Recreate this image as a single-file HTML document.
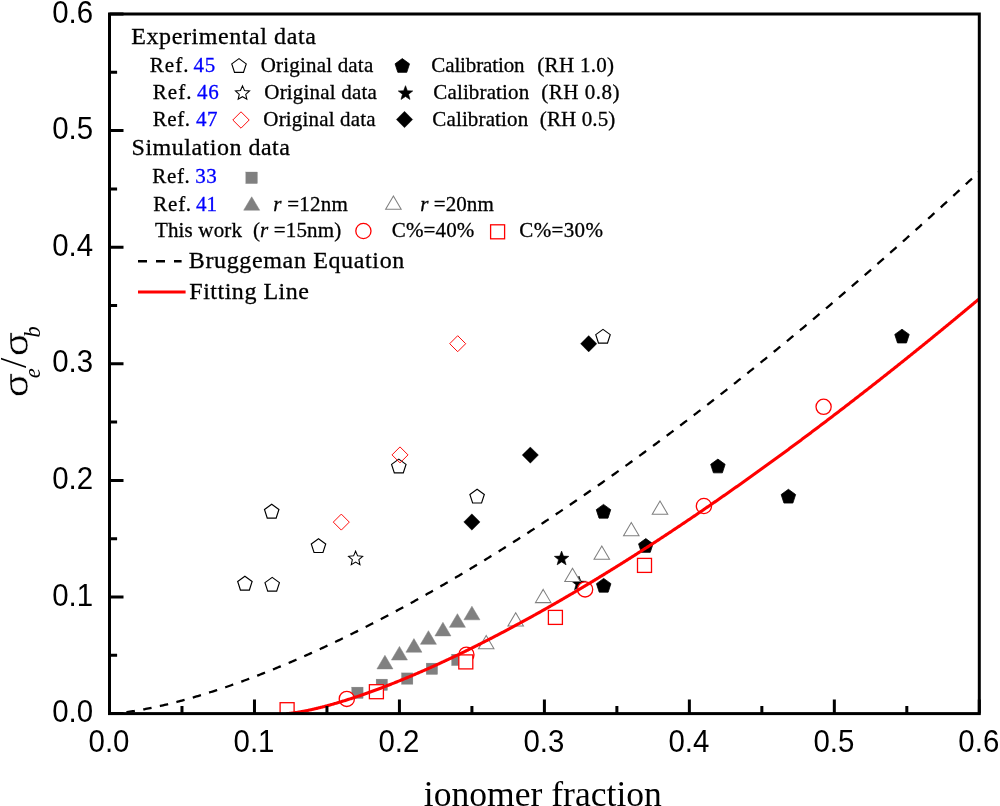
<!DOCTYPE html><html><head><meta charset="utf-8"><style>html,body{margin:0;padding:0;background:#fff;width:1000px;height:806px;overflow:hidden}svg{display:block;will-change:transform}</style></head><body>
<svg width="1000" height="806" viewBox="0 0 1000 806">
<rect width="1000" height="806" fill="#fff"/>
<defs><clipPath id="pc"><rect x="109.5" y="14.0" width="869.80" height="699.60"/></clipPath></defs>
<g clip-path="url(#pc)"><polygon points="244.90,576.30 252.13,581.55 249.37,590.05 240.43,590.05 237.67,581.55" fill="none" stroke="#000" stroke-width="1.15" stroke-linejoin="miter"/><polygon points="272.20,577.40 279.43,582.65 276.67,591.15 267.73,591.15 264.97,582.65" fill="none" stroke="#000" stroke-width="1.15" stroke-linejoin="miter"/><polygon points="271.70,504.30 278.93,509.55 276.17,518.05 267.23,518.05 264.47,509.55" fill="none" stroke="#000" stroke-width="1.15" stroke-linejoin="miter"/><polygon points="318.50,538.70 325.73,543.95 322.97,552.45 314.03,552.45 311.27,543.95" fill="none" stroke="#000" stroke-width="1.15" stroke-linejoin="miter"/><polygon points="398.80,459.10 406.03,464.35 403.27,472.85 394.33,472.85 391.57,464.35" fill="none" stroke="#000" stroke-width="1.15" stroke-linejoin="miter"/><polygon points="477.10,489.20 484.33,494.45 481.57,502.95 472.63,502.95 469.87,494.45" fill="none" stroke="#000" stroke-width="1.15" stroke-linejoin="miter"/><polygon points="603.00,329.40 610.23,334.65 607.47,343.15 598.53,343.15 595.77,334.65" fill="none" stroke="#000" stroke-width="1.15" stroke-linejoin="miter"/><polygon points="355.60,551.20 357.60,555.85 362.64,556.31 358.84,559.65 359.95,564.59 355.60,562.00 351.25,564.59 352.36,559.65 348.56,556.31 353.60,555.85" fill="none" stroke="#000" stroke-width="1.05"/><polygon points="341.3,514.1 349.3,522.1 341.3,530.1 333.3,522.1" fill="none" stroke="#ff0000" stroke-width="0.95"/><polygon points="400,446.9 408.0,454.9 400,462.9 392.0,454.9" fill="none" stroke="#ff0000" stroke-width="0.95"/><polygon points="457.7,335.7 465.7,343.7 457.7,351.7 449.7,343.7" fill="none" stroke="#ff0000" stroke-width="0.95"/><polygon points="603.50,504.40 610.73,509.65 607.97,518.15 599.03,518.15 596.27,509.65" fill="#000" stroke="#000" stroke-width="0.8" stroke-linejoin="miter"/><polygon points="603.70,578.40 610.93,583.65 608.17,592.15 599.23,592.15 596.47,583.65" fill="#000" stroke="#000" stroke-width="0.8" stroke-linejoin="miter"/><polygon points="645.80,538.60 653.03,543.85 650.27,552.35 641.33,552.35 638.57,543.85" fill="#000" stroke="#000" stroke-width="0.8" stroke-linejoin="miter"/><polygon points="717.90,459.10 725.13,464.35 722.37,472.85 713.43,472.85 710.67,464.35" fill="#000" stroke="#000" stroke-width="0.8" stroke-linejoin="miter"/><polygon points="788.40,489.30 795.63,494.55 792.87,503.05 783.93,503.05 781.17,494.55" fill="#000" stroke="#000" stroke-width="0.8" stroke-linejoin="miter"/><polygon points="902.00,329.20 909.23,334.45 906.47,342.95 897.53,342.95 894.77,334.45" fill="#000" stroke="#000" stroke-width="0.8" stroke-linejoin="miter"/><polygon points="561.60,551.10 563.48,556.12 568.83,556.35 564.64,559.69 566.07,564.85 561.60,561.89 557.13,564.85 558.56,559.69 554.37,556.35 559.72,556.12" fill="#000" stroke="#000" stroke-width="0.6"/><polygon points="579.00,576.10 580.88,581.12 586.23,581.35 582.04,584.69 583.47,589.85 579.00,586.89 574.53,589.85 575.96,584.69 571.77,581.35 577.12,581.12" fill="#000" stroke="#000" stroke-width="0.6"/><polygon points="588.7,335.5 596.9000000000001,343.7 588.7,351.9 580.5,343.7" fill="#000" stroke="#000" stroke-width="0.3"/><polygon points="530.3,446.90000000000003 538.5,455.1 530.3,463.3 522.0999999999999,455.1" fill="#000" stroke="#000" stroke-width="0.3"/><polygon points="471.9,513.8 480.09999999999997,522 471.9,530.2 463.7,522" fill="#000" stroke="#000" stroke-width="0.3"/><rect x="351.7" y="687.0999999999999" width="11.4" height="11.4" fill="#808080" stroke="#808080" stroke-width="0.3"/><rect x="376.1" y="679.0999999999999" width="11.4" height="11.4" fill="#808080" stroke="#808080" stroke-width="0.3"/><rect x="401.5" y="672.9" width="11.4" height="11.4" fill="#808080" stroke="#808080" stroke-width="0.3"/><rect x="426.2" y="663.0999999999999" width="11.4" height="11.4" fill="#808080" stroke="#808080" stroke-width="0.3"/><rect x="451.6" y="654.1999999999999" width="11.4" height="11.4" fill="#808080" stroke="#808080" stroke-width="0.3"/><polygon points="384.93666666666667,655.3000000000001 392.93666666666667,668.9 376.93666666666667,668.9" fill="#808080" stroke="#808080" stroke-width="0.5"/><polygon points="399.43333333333334,646.4000000000001 407.43333333333334,660.0 391.43333333333334,660.0" fill="#808080" stroke="#808080" stroke-width="0.5"/><polygon points="413.93,638.6 421.93,652.1999999999999 405.93,652.1999999999999" fill="#808080" stroke="#808080" stroke-width="0.5"/><polygon points="428.4266666666667,630.7 436.4266666666667,644.3 420.4266666666667,644.3" fill="#808080" stroke="#808080" stroke-width="0.5"/><polygon points="442.92333333333335,622.3000000000001 450.92333333333335,635.9 434.92333333333335,635.9" fill="#808080" stroke="#808080" stroke-width="0.5"/><polygon points="457.41999999999996,613.7 465.41999999999996,627.3 449.41999999999996,627.3" fill="#808080" stroke="#808080" stroke-width="0.5"/><polygon points="471.9166666666667,606.2 479.9166666666667,619.8 463.9166666666667,619.8" fill="#808080" stroke="#808080" stroke-width="0.5"/><polygon points="486.2,635.5 493.95,648.7 478.45,648.7" fill="#fff" stroke="#808080" stroke-width="1.05"/><polygon points="515.7,612.6999999999999 523.45,625.9 507.95000000000005,625.9" fill="#fff" stroke="#808080" stroke-width="1.05"/><polygon points="543.2,589.4 550.95,602.6 535.45,602.6" fill="#fff" stroke="#808080" stroke-width="1.05"/><polygon points="572.5,568.3 580.25,581.5 564.75,581.5" fill="#fff" stroke="#808080" stroke-width="1.05"/><polygon points="601.8,546.0 609.55,559.2 594.05,559.2" fill="#fff" stroke="#808080" stroke-width="1.05"/><polygon points="631.3,522.5 639.05,535.7 623.55,535.7" fill="#fff" stroke="#808080" stroke-width="1.05"/><polygon points="660,501.0 667.75,514.2 652.25,514.2" fill="#fff" stroke="#808080" stroke-width="1.05"/><circle cx="346.8" cy="698.9" r="7.6" fill="#fff" stroke="#ff0000" stroke-width="1.3"/><circle cx="466.4" cy="654.7" r="7.6" fill="#fff" stroke="#ff0000" stroke-width="1.3"/><circle cx="585.1" cy="589.4" r="7.6" fill="#fff" stroke="#ff0000" stroke-width="1.3"/><circle cx="703.9" cy="506" r="7.6" fill="#fff" stroke="#ff0000" stroke-width="1.3"/><circle cx="823.6" cy="406.8" r="7.6" fill="#fff" stroke="#ff0000" stroke-width="1.3"/><rect x="280.1" y="702.7" width="14.0" height="14.0" fill="#fff" stroke="#ff0000" stroke-width="1.3"/><rect x="369.4" y="684.7" width="14.0" height="14.0" fill="#fff" stroke="#ff0000" stroke-width="1.3"/><rect x="458.8" y="654.9" width="14.0" height="14.0" fill="#fff" stroke="#ff0000" stroke-width="1.3"/><rect x="548.4" y="610.4" width="14.0" height="14.0" fill="#fff" stroke="#ff0000" stroke-width="1.3"/><rect x="637.5" y="558.4" width="14.0" height="14.0" fill="#fff" stroke="#ff0000" stroke-width="1.3"/><polyline points="109.50,713.60 110.95,713.56 112.40,713.50 113.85,713.41 115.30,713.31 116.75,713.19 118.20,713.06 119.65,712.92 121.10,712.77 122.55,712.60 124.00,712.43 125.45,712.25 126.90,712.07 128.35,711.87 129.80,711.67 131.25,711.46 132.69,711.24 134.14,711.02 135.59,710.78 137.04,710.55 138.49,710.30 139.94,710.05 141.39,709.80 142.84,709.53 144.29,709.26 145.74,708.99 147.19,708.71 148.64,708.43 150.09,708.14 151.54,707.84 152.99,707.54 154.44,707.24 155.89,706.93 157.34,706.61 158.79,706.29 160.24,705.97 161.69,705.64 163.14,705.30 164.59,704.96 166.04,704.62 167.49,704.27 168.94,703.92 170.39,703.56 171.84,703.20 173.29,702.84 174.74,702.47 176.18,702.10 177.63,701.72 179.08,701.34 180.53,700.95 181.98,700.56 183.43,700.17 184.88,699.77 186.33,699.37 187.78,698.97 189.23,698.56 190.68,698.15 192.13,697.73 193.58,697.31 195.03,696.89 196.48,696.46 197.93,696.03 199.38,695.60 200.83,695.16 202.28,694.72 203.73,694.28 205.18,693.83 206.63,693.38 208.08,692.92 209.53,692.47 210.98,692.01 212.43,691.54 213.88,691.07 215.33,690.60 216.78,690.13 218.23,689.65 219.67,689.17 221.12,688.69 222.57,688.20 224.02,687.71 225.47,687.22 226.92,686.72 228.37,686.22 229.82,685.72 231.27,685.21 232.72,684.70 234.17,684.19 235.62,683.68 237.07,683.16 238.52,682.64 239.97,682.12 241.42,681.59 242.87,681.06 244.32,680.53 245.77,680.00 247.22,679.46 248.67,678.92 250.12,678.37 251.57,677.83 253.02,677.28 254.47,676.73 255.92,676.17 257.37,675.62 258.82,675.06 260.27,674.49 261.72,673.93 263.16,673.36 264.61,672.79 266.06,672.22 267.51,671.64 268.96,671.06 270.41,670.48 271.86,669.90 273.31,669.31 274.76,668.72 276.21,668.13 277.66,667.53 279.11,666.94 280.56,666.34 282.01,665.73 283.46,665.13 284.91,664.52 286.36,663.91 287.81,663.30 289.26,662.69 290.71,662.07 292.16,661.45 293.61,660.83 295.06,660.20 296.51,659.58 297.96,658.95 299.41,658.32 300.86,657.68 302.31,657.04 303.76,656.41 305.21,655.76 306.65,655.12 308.10,654.47 309.55,653.83 311.00,653.17 312.45,652.52 313.90,651.87 315.35,651.21 316.80,650.55 318.25,649.88 319.70,649.22 321.15,648.55 322.60,647.88 324.05,647.21 325.50,646.54 326.95,645.86 328.40,645.18 329.85,644.50 331.30,643.82 332.75,643.13 334.20,642.45 335.65,641.76 337.10,641.06 338.55,640.37 340.00,639.67 341.45,638.98 342.90,638.28 344.35,637.57 345.80,636.87 347.25,636.16 348.69,635.45 350.14,634.74 351.59,634.03 353.04,633.31 354.49,632.59 355.94,631.87 357.39,631.15 358.84,630.43 360.29,629.70 361.74,628.97 363.19,628.24 364.64,627.51 366.09,626.77 367.54,626.04 368.99,625.30 370.44,624.56 371.89,623.81 373.34,623.07 374.79,622.32 376.24,621.57 377.69,620.82 379.14,620.07 380.59,619.31 382.04,618.55 383.49,617.79 384.94,617.03 386.39,616.27 387.84,615.50 389.29,614.74 390.74,613.97 392.19,613.20 393.63,612.42 395.08,611.65 396.53,610.87 397.98,610.09 399.43,609.31 400.88,608.53 402.33,607.74 403.78,606.95 405.23,606.17 406.68,605.37 408.13,604.58 409.58,603.79 411.03,602.99 412.48,602.19 413.93,601.39 415.38,600.59 416.83,599.78 418.28,598.98 419.73,598.17 421.18,597.36 422.63,596.55 424.08,595.73 425.53,594.92 426.98,594.10 428.43,593.28 429.88,592.46 431.33,591.64 432.78,590.81 434.23,589.99 435.68,589.16 437.12,588.33 438.57,587.49 440.02,586.66 441.47,585.82 442.92,584.99 444.37,584.15 445.82,583.30 447.27,582.46 448.72,581.62 450.17,580.77 451.62,579.92 453.07,579.07 454.52,578.22 455.97,577.36 457.42,576.51 458.87,575.65 460.32,574.79 461.77,573.93 463.22,573.07 464.67,572.20 466.12,571.33 467.57,570.47 469.02,569.60 470.47,568.72 471.92,567.85 473.37,566.97 474.82,566.10 476.27,565.22 477.72,564.34 479.16,563.46 480.61,562.57 482.06,561.69 483.51,560.80 484.96,559.91 486.41,559.02 487.86,558.13 489.31,557.23 490.76,556.33 492.21,555.44 493.66,554.54 495.11,553.64 496.56,552.73 498.01,551.83 499.46,550.92 500.91,550.01 502.36,549.11 503.81,548.19 505.26,547.28 506.71,546.37 508.16,545.45 509.61,544.53 511.06,543.61 512.51,542.69 513.96,541.77 515.41,540.84 516.86,539.92 518.31,538.99 519.76,538.06 521.21,537.13 522.65,536.20 524.10,535.26 525.55,534.32 527.00,533.39 528.45,532.45 529.90,531.51 531.35,530.56 532.80,529.62 534.25,528.67 535.70,527.73 537.15,526.78 538.60,525.83 540.05,524.87 541.50,523.92 542.95,522.96 544.40,522.01 545.85,521.05 547.30,520.09 548.75,519.13 550.20,518.16 551.65,517.20 553.10,516.23 554.55,515.26 556.00,514.29 557.45,513.32 558.90,512.35 560.35,511.37 561.80,510.40 563.25,509.42 564.70,508.44 566.14,507.46 567.59,506.48 569.04,505.49 570.49,504.51 571.94,503.52 573.39,502.53 574.84,501.54 576.29,500.55 577.74,499.56 579.19,498.56 580.64,497.57 582.09,496.57 583.54,495.57 584.99,494.57 586.44,493.56 587.89,492.56 589.34,491.56 590.79,490.55 592.24,489.54 593.69,488.53 595.14,487.52 596.59,486.51 598.04,485.49 599.49,484.47 600.94,483.46 602.39,482.44 603.84,481.42 605.29,480.40 606.74,479.37 608.19,478.35 609.63,477.32 611.08,476.29 612.53,475.26 613.98,474.23 615.43,473.20 616.88,472.16 618.33,471.13 619.78,470.09 621.23,469.05 622.68,468.01 624.13,466.97 625.58,465.93 627.03,464.89 628.48,463.84 629.93,462.79 631.38,461.74 632.83,460.69 634.28,459.64 635.73,458.59 637.18,457.53 638.63,456.48 640.08,455.42 641.53,454.36 642.98,453.30 644.43,452.24 645.88,451.18 647.33,450.11 648.78,449.05 650.23,447.98 651.68,446.91 653.12,445.84 654.57,444.77 656.02,443.70 657.47,442.62 658.92,441.54 660.37,440.47 661.82,439.39 663.27,438.31 664.72,437.23 666.17,436.14 667.62,435.06 669.07,433.97 670.52,432.89 671.97,431.80 673.42,430.71 674.87,429.61 676.32,428.52 677.77,427.43 679.22,426.33 680.67,425.23 682.12,424.14 683.57,423.04 685.02,421.94 686.47,420.83 687.92,419.73 689.37,418.62 690.82,417.52 692.27,416.41 693.72,415.30 695.17,414.19 696.62,413.07 698.06,411.96 699.51,410.85 700.96,409.73 702.41,408.61 703.86,407.49 705.31,406.37 706.76,405.25 708.21,404.13 709.66,403.00 711.11,401.88 712.56,400.75 714.01,399.62 715.46,398.49 716.91,397.36 718.36,396.23 719.81,395.09 721.26,393.96 722.71,392.82 724.16,391.68 725.61,390.54 727.06,389.40 728.51,388.26 729.96,387.11 731.41,385.97 732.86,384.82 734.31,383.68 735.76,382.53 737.21,381.38 738.66,380.22 740.11,379.07 741.55,377.92 743.00,376.76 744.45,375.61 745.90,374.45 747.35,373.29 748.80,372.13 750.25,370.96 751.70,369.80 753.15,368.64 754.60,367.47 756.05,366.30 757.50,365.13 758.95,363.96 760.40,362.79 761.85,361.62 763.30,360.45 764.75,359.27 766.20,358.09 767.65,356.92 769.10,355.74 770.55,354.56 772.00,353.38 773.45,352.19 774.90,351.01 776.35,349.82 777.80,348.64 779.25,347.45 780.70,346.26 782.15,345.07 783.60,343.88 785.04,342.68 786.49,341.49 787.94,340.29 789.39,339.09 790.84,337.90 792.29,336.70 793.74,335.50 795.19,334.29 796.64,333.09 798.09,331.89 799.54,330.68 800.99,329.47 802.44,328.26 803.89,327.05 805.34,325.84 806.79,324.63 808.24,323.42 809.69,322.20 811.14,320.99 812.59,319.77 814.04,318.55 815.49,317.33 816.94,316.11 818.39,314.89 819.84,313.66 821.29,312.44 822.74,311.21 824.19,309.98 825.64,308.75 827.09,307.52 828.53,306.29 829.98,305.06 831.43,303.83 832.88,302.59 834.33,301.36 835.78,300.12 837.23,298.88 838.68,297.64 840.13,296.40 841.58,295.16 843.03,293.91 844.48,292.67 845.93,291.42 847.38,290.18 848.83,288.93 850.28,287.68 851.73,286.43 853.18,285.18 854.63,283.92 856.08,282.67 857.53,281.41 858.98,280.15 860.43,278.90 861.88,277.64 863.33,276.38 864.78,275.11 866.23,273.85 867.68,272.59 869.13,271.32 870.58,270.06 872.02,268.79 873.47,267.52 874.92,266.25 876.37,264.98 877.82,263.70 879.27,262.43 880.72,261.15 882.17,259.88 883.62,258.60 885.07,257.32 886.52,256.04 887.97,254.76 889.42,253.48 890.87,252.20 892.32,250.91 893.77,249.63 895.22,248.34 896.67,247.05 898.12,245.76 899.57,244.47 901.02,243.18 902.47,241.89 903.92,240.59 905.37,239.30 906.82,238.00 908.27,236.70 909.72,235.40 911.17,234.10 912.62,232.80 914.07,231.50 915.51,230.20 916.96,228.89 918.41,227.58 919.86,226.28 921.31,224.97 922.76,223.66 924.21,222.35 925.66,221.04 927.11,219.72 928.56,218.41 930.01,217.10 931.46,215.78 932.91,214.46 934.36,213.14 935.81,211.82 937.26,210.50 938.71,209.18 940.16,207.86 941.61,206.53 943.06,205.21 944.51,203.88 945.96,202.55 947.41,201.22 948.86,199.89 950.31,198.56 951.76,197.23 953.21,195.89 954.66,194.56 956.11,193.22 957.55,191.89 959.00,190.55 960.45,189.21 961.90,187.87 963.35,186.53 964.80,185.18 966.25,183.84 967.70,182.49 969.15,181.15 970.60,179.80 972.05,178.45 973.50,177.10 974.95,175.75 976.40,174.40 977.85,173.05 979.30,171.69" fill="none" stroke="#000" stroke-width="2.3" stroke-dasharray="8.5 8.5"/><polyline points="286.36,713.60 287.05,713.57 287.75,713.53 288.44,713.48 289.13,713.42 289.82,713.35 290.52,713.28 291.21,713.20 291.90,713.12 292.60,713.03 293.29,712.94 293.98,712.85 294.67,712.75 295.37,712.65 296.06,712.55 296.75,712.44 297.45,712.33 298.14,712.22 298.83,712.10 299.53,711.99 300.22,711.86 300.91,711.74 301.60,711.62 302.30,711.49 302.99,711.36 303.68,711.23 304.38,711.09 305.07,710.96 305.76,710.82 306.45,710.68 307.15,710.54 307.84,710.40 308.53,710.25 309.23,710.10 309.92,709.95 310.61,709.80 311.31,709.65 312.00,709.49 312.69,709.34 313.38,709.18 314.08,709.02 314.77,708.86 315.46,708.70 316.16,708.53 316.85,708.37 317.54,708.20 318.23,708.03 318.93,707.86 319.62,707.69 320.31,707.52 321.01,707.34 321.70,707.17 322.39,706.99 323.09,706.81 323.78,706.63 324.47,706.45 325.16,706.27 325.86,706.08 326.55,705.90 327.24,705.71 327.94,705.52 328.63,705.33 329.32,705.14 330.01,704.95 330.71,704.76 331.40,704.56 332.09,704.37 332.79,704.17 333.48,703.97 334.17,703.78 334.87,703.58 335.56,703.38 336.25,703.17 336.94,702.97 337.64,702.77 338.33,702.56 339.02,702.35 339.72,702.15 340.41,701.94 341.10,701.73 341.79,701.52 342.49,701.30 343.18,701.09 343.87,700.88 344.57,700.66 345.26,700.45 345.95,700.23 346.65,700.01 347.34,699.79 348.03,699.57 348.72,699.35 349.42,699.13 350.11,698.90 350.80,698.68 351.50,698.45 352.19,698.23 352.88,698.00 353.57,697.77 354.27,697.54 354.96,697.32 355.65,697.08 356.35,696.85 357.04,696.62 357.73,696.39 358.43,696.15 359.12,695.92 359.81,695.68 360.50,695.44 361.20,695.21 361.89,694.97 362.58,694.73 363.28,694.49 363.97,694.24 364.66,694.00 365.35,693.76 366.05,693.51 366.74,693.27 367.43,693.02 368.13,692.78 368.82,692.53 369.51,692.28 370.21,692.03 370.90,691.78 371.59,691.53 372.28,691.28 372.98,691.03 373.67,690.77 374.36,690.52 375.06,690.27 375.75,690.01 376.44,689.75 377.13,689.50 377.83,689.24 378.52,688.98 379.21,688.72 379.91,688.46 380.60,688.20 381.29,687.94 381.99,687.67 382.68,687.41 383.37,687.15 384.06,686.88 384.76,686.62 385.45,686.35 386.14,686.08 386.84,685.81 387.53,685.55 388.22,685.28 388.91,685.01 389.61,684.74 390.30,684.46 390.99,684.19 391.69,683.92 392.38,683.65 393.07,683.37 393.77,683.10 394.46,682.82 395.15,682.54 395.84,682.27 396.54,681.99 397.23,681.71 397.92,681.43 398.62,681.15 399.31,680.87 400.00,680.59 400.69,680.31 401.39,680.02 402.08,679.74 402.77,679.45 403.47,679.17 404.16,678.88 404.85,678.60 405.55,678.31 406.24,678.02 406.93,677.74 407.62,677.45 408.32,677.16 409.01,676.87 409.70,676.58 410.40,676.28 411.09,675.99 411.78,675.70 412.47,675.41 413.17,675.11 413.86,674.82 414.55,674.52 415.25,674.23 415.94,673.93 416.63,673.63 417.33,673.33 418.02,673.03 418.71,672.74 419.40,672.44 420.10,672.14 420.79,671.83 421.48,671.53 422.18,671.23 422.87,670.93 423.56,670.62 424.25,670.32 424.95,670.01 425.64,669.71 426.33,669.40 427.03,669.10 427.72,668.79 428.41,668.48 429.11,668.17 429.80,667.86 430.49,667.55 431.18,667.24 431.88,666.93 432.57,666.62 433.26,666.31 433.96,666.00 434.65,665.68 435.34,665.37 436.03,665.06 436.73,664.74 437.42,664.43 438.11,664.11 438.81,663.79 439.50,663.48 440.19,663.16 440.89,662.84 441.58,662.52 442.27,662.20 442.96,661.88 443.66,661.56 444.35,661.24 445.04,660.92 445.74,660.60 446.43,660.27 447.12,659.95 447.81,659.62 448.51,659.30 449.20,658.97 449.89,658.65 450.59,658.32 451.28,658.00 451.97,657.67 452.67,657.34 453.36,657.01 454.05,656.68 454.74,656.35 455.44,656.02 456.13,655.69 456.82,655.36 457.52,655.03 458.21,654.70 458.90,654.37 459.59,654.03 460.29,653.70 460.98,653.36 461.67,653.03 462.37,652.69 463.06,652.36 463.75,652.02 464.45,651.68 465.14,651.35 465.83,651.01 466.52,650.67 467.22,650.33 467.91,649.99 468.60,649.65 469.30,649.31 469.99,648.97 470.68,648.63 471.37,648.28 472.07,647.94 472.76,647.60 473.45,647.26 474.15,646.91 474.84,646.57 475.53,646.22 476.23,645.88 476.92,645.53 477.61,645.18 478.30,644.83 479.00,644.49 479.69,644.14 480.38,643.79 481.08,643.44 481.77,643.09 482.46,642.74 483.15,642.39 483.85,642.04 484.54,641.69 485.23,641.33 485.93,640.98 486.62,640.63 487.31,640.27 488.01,639.92 488.70,639.57 489.39,639.21 490.08,638.85 490.78,638.50 491.47,638.14 492.16,637.78 492.86,637.43 493.55,637.07 494.24,636.71 494.93,636.35 495.63,635.99 496.32,635.63 497.01,635.27 497.71,634.91 498.40,634.55 499.09,634.19 499.79,633.82 500.48,633.46 501.17,633.10 501.86,632.73 502.56,632.37 503.25,632.01 503.94,631.64 504.64,631.27 505.33,630.91 506.02,630.54 506.71,630.18 507.41,629.81 508.10,629.44 508.79,629.07 509.49,628.70 510.18,628.33 510.87,627.96 511.57,627.59 512.26,627.22 512.95,626.85 513.64,626.48 514.34,626.11 515.03,625.73 515.72,625.36 516.42,624.99 517.11,624.61 517.80,624.24 518.49,623.87 519.19,623.49 519.88,623.11 520.57,622.74 521.27,622.36 521.96,621.98 522.65,621.61 523.35,621.23 524.04,620.85 524.73,620.47 525.42,620.09 526.12,619.71 526.81,619.33 527.50,618.95 528.20,618.57 528.89,618.19 529.58,617.81 530.27,617.43 530.97,617.04 531.66,616.66 532.35,616.28 533.05,615.89 533.74,615.51 534.43,615.12 535.13,614.74 535.82,614.35 536.51,613.97 537.20,613.58 537.90,613.19 538.59,612.80 539.28,612.42 539.98,612.03 540.67,611.64 541.36,611.25 542.05,610.86 542.75,610.47 543.44,610.08 544.13,609.69 544.83,609.30 545.52,608.91 546.21,608.51 546.91,608.12 547.60,607.73 548.29,607.34 548.98,606.94 549.68,606.55 550.37,606.15 551.06,605.76 551.76,605.36 552.45,604.97 553.14,604.57 553.83,604.17 554.53,603.78 555.22,603.38 555.91,602.98 556.61,602.58 557.30,602.18 557.99,601.79 558.69,601.39 559.38,600.99 560.07,600.59 560.76,600.18 561.46,599.78 562.15,599.38 562.84,598.98 563.54,598.58 564.23,598.18 564.92,597.77 565.61,597.37 566.31,596.96 567.00,596.56 567.69,596.16 568.39,595.75 569.08,595.34 569.77,594.94 570.47,594.53 571.16,594.13 571.85,593.72 572.54,593.31 573.24,592.90 573.93,592.49 574.62,592.09 575.32,591.68 576.01,591.27 576.70,590.86 577.39,590.45 578.09,590.04 578.78,589.62 579.47,589.21 580.17,588.80 580.86,588.39 581.55,587.98 582.24,587.56 582.94,587.15 583.63,586.74 584.32,586.32 585.02,585.91 585.71,585.49 586.40,585.08 587.10,584.66 587.79,584.25 588.48,583.83 589.17,583.41 589.87,582.99 590.56,582.58 591.25,582.16 591.95,581.74 592.64,581.32 593.33,580.90 594.02,580.48 594.72,580.06 595.41,579.64 596.10,579.22 596.80,578.80 597.49,578.38 598.18,577.96 598.88,577.54 599.57,577.11 600.26,576.69 600.95,576.27 601.65,575.84 602.34,575.42 603.03,574.99 603.73,574.57 604.42,574.14 605.11,573.72 605.80,573.29 606.50,572.87 607.19,572.44 607.88,572.01 608.58,571.59 609.27,571.16 609.96,570.73 610.66,570.30 611.35,569.87 612.04,569.44 612.73,569.01 613.43,568.58 614.12,568.15 614.81,567.72 615.51,567.29 616.20,566.86 616.89,566.43 617.58,566.00 618.28,565.56 618.97,565.13 619.66,564.70 620.36,564.26 621.05,563.83 621.74,563.40 622.44,562.96 623.13,562.53 623.82,562.09 624.51,561.66 625.21,561.22 625.90,560.78 626.59,560.35 627.29,559.91 627.98,559.47 628.67,559.03 629.36,558.60 630.06,558.16 630.75,557.72 631.44,557.28 632.14,556.84 632.83,556.40 633.52,555.96 634.22,555.52 634.91,555.08 635.60,554.64 636.29,554.19 636.99,553.75 637.68,553.31 638.37,552.87 639.07,552.42 639.76,551.98 640.45,551.54 641.14,551.09 641.84,550.65 642.53,550.20 643.22,549.76 643.92,549.31 644.61,548.87 645.30,548.42 646.00,547.97 646.69,547.53 647.38,547.08 648.07,546.63 648.77,546.18 649.46,545.73 650.15,545.29 650.85,544.84 651.54,544.39 652.23,543.94 652.92,543.49 653.62,543.04 654.31,542.59 655.00,542.14 655.70,541.68 656.39,541.23 657.08,540.78 657.78,540.33 658.47,539.88 659.16,539.42 659.85,538.97 660.55,538.52 661.24,538.06 661.93,537.61 662.63,537.15 663.32,536.70 664.01,536.24 664.70,535.79 665.40,535.33 666.09,534.87 666.78,534.42 667.48,533.96 668.17,533.50 668.86,533.04 669.56,532.59 670.25,532.13 670.94,531.67 671.63,531.21 672.33,530.75 673.02,530.29 673.71,529.83 674.41,529.37 675.10,528.91 675.79,528.45 676.48,527.99 677.18,527.52 677.87,527.06 678.56,526.60 679.26,526.14 679.95,525.67 680.64,525.21 681.34,524.75 682.03,524.28 682.72,523.82 683.41,523.35 684.11,522.89 684.80,522.42 685.49,521.96 686.19,521.49 686.88,521.03 687.57,520.56 688.26,520.09 688.96,519.63 689.65,519.16 690.34,518.69 691.04,518.22 691.73,517.75 692.42,517.28 693.12,516.82 693.81,516.35 694.50,515.88 695.19,515.41 695.89,514.94 696.58,514.46 697.27,513.99 697.97,513.52 698.66,513.05 699.35,512.58 700.04,512.11 700.74,511.63 701.43,511.16 702.12,510.69 702.82,510.21 703.51,509.74 704.20,509.27 704.90,508.79 705.59,508.32 706.28,507.84 706.97,507.37 707.67,506.89 708.36,506.41 709.05,505.94 709.75,505.46 710.44,504.98 711.13,504.51 711.82,504.03 712.52,503.55 713.21,503.07 713.90,502.59 714.60,502.11 715.29,501.63 715.98,501.16 716.68,500.68 717.37,500.20 718.06,499.71 718.75,499.23 719.45,498.75 720.14,498.27 720.83,497.79 721.53,497.31 722.22,496.83 722.91,496.34 723.60,495.86 724.30,495.38 724.99,494.89 725.68,494.41 726.38,493.92 727.07,493.44 727.76,492.96 728.46,492.47 729.15,491.99 729.84,491.50 730.53,491.01 731.23,490.53 731.92,490.04 732.61,489.55 733.31,489.07 734.00,488.58 734.69,488.09 735.38,487.60 736.08,487.11 736.77,486.63 737.46,486.14 738.16,485.65 738.85,485.16 739.54,484.67 740.24,484.18 740.93,483.69 741.62,483.20 742.31,482.71 743.01,482.21 743.70,481.72 744.39,481.23 745.09,480.74 745.78,480.25 746.47,479.75 747.16,479.26 747.86,478.77 748.55,478.27 749.24,477.78 749.94,477.28 750.63,476.79 751.32,476.29 752.02,475.80 752.71,475.30 753.40,474.81 754.09,474.31 754.79,473.81 755.48,473.32 756.17,472.82 756.87,472.32 757.56,471.83 758.25,471.33 758.94,470.83 759.64,470.33 760.33,469.83 761.02,469.33 761.72,468.83 762.41,468.33 763.10,467.83 763.80,467.33 764.49,466.83 765.18,466.33 765.87,465.83 766.57,465.33 767.26,464.83 767.95,464.33 768.65,463.82 769.34,463.32 770.03,462.82 770.72,462.32 771.42,461.81 772.11,461.31 772.80,460.80 773.50,460.30 774.19,459.80 774.88,459.29 775.58,458.79 776.27,458.28 776.96,457.77 777.65,457.27 778.35,456.76 779.04,456.26 779.73,455.75 780.43,455.24 781.12,454.73 781.81,454.23 782.50,453.72 783.20,453.21 783.89,452.70 784.58,452.19 785.28,451.68 785.97,451.17 786.66,450.66 787.36,450.15 788.05,449.64 788.74,449.13 789.43,448.62 790.13,448.11 790.82,447.60 791.51,447.09 792.21,446.58 792.90,446.06 793.59,445.55 794.28,445.04 794.98,444.53 795.67,444.01 796.36,443.50 797.06,442.98 797.75,442.47 798.44,441.96 799.14,441.44 799.83,440.93 800.52,440.41 801.21,439.90 801.91,439.38 802.60,438.86 803.29,438.35 803.99,437.83 804.68,437.31 805.37,436.80 806.06,436.28 806.76,435.76 807.45,435.24 808.14,434.72 808.84,434.21 809.53,433.69 810.22,433.17 810.92,432.65 811.61,432.13 812.30,431.61 812.99,431.09 813.69,430.57 814.38,430.05 815.07,429.53 815.77,429.00 816.46,428.48 817.15,427.96 817.84,427.44 818.54,426.92 819.23,426.39 819.92,425.87 820.62,425.35 821.31,424.82 822.00,424.30 822.70,423.78 823.39,423.25 824.08,422.73 824.77,422.20 825.47,421.68 826.16,421.15 826.85,420.63 827.55,420.10 828.24,419.57 828.93,419.05 829.62,418.52 830.32,417.99 831.01,417.47 831.70,416.94 832.40,416.41 833.09,415.88 833.78,415.35 834.48,414.82 835.17,414.30 835.86,413.77 836.55,413.24 837.25,412.71 837.94,412.18 838.63,411.65 839.33,411.12 840.02,410.59 840.71,410.05 841.40,409.52 842.10,408.99 842.79,408.46 843.48,407.93 844.18,407.40 844.87,406.86 845.56,406.33 846.26,405.80 846.95,405.26 847.64,404.73 848.33,404.20 849.03,403.66 849.72,403.13 850.41,402.59 851.11,402.06 851.80,401.52 852.49,400.99 853.18,400.45 853.88,399.91 854.57,399.38 855.26,398.84 855.96,398.30 856.65,397.77 857.34,397.23 858.04,396.69 858.73,396.15 859.42,395.62 860.11,395.08 860.81,394.54 861.50,394.00 862.19,393.46 862.89,392.92 863.58,392.38 864.27,391.84 864.96,391.30 865.66,390.76 866.35,390.22 867.04,389.68 867.74,389.14 868.43,388.60 869.12,388.05 869.82,387.51 870.51,386.97 871.20,386.43 871.89,385.88 872.59,385.34 873.28,384.80 873.97,384.25 874.67,383.71 875.36,383.17 876.05,382.62 876.74,382.08 877.44,381.53 878.13,380.99 878.82,380.44 879.52,379.90 880.21,379.35 880.90,378.80 881.60,378.26 882.29,377.71 882.98,377.16 883.67,376.62 884.37,376.07 885.06,375.52 885.75,374.97 886.45,374.43 887.14,373.88 887.83,373.33 888.52,372.78 889.22,372.23 889.91,371.68 890.60,371.13 891.30,370.58 891.99,370.03 892.68,369.48 893.38,368.93 894.07,368.38 894.76,367.83 895.45,367.28 896.15,366.72 896.84,366.17 897.53,365.62 898.23,365.07 898.92,364.52 899.61,363.96 900.30,363.41 901.00,362.86 901.69,362.30 902.38,361.75 903.08,361.19 903.77,360.64 904.46,360.08 905.16,359.53 905.85,358.97 906.54,358.42 907.23,357.86 907.93,357.31 908.62,356.75 909.31,356.19 910.01,355.64 910.70,355.08 911.39,354.52 912.08,353.97 912.78,353.41 913.47,352.85 914.16,352.29 914.86,351.73 915.55,351.18 916.24,350.62 916.94,350.06 917.63,349.50 918.32,348.94 919.01,348.38 919.71,347.82 920.40,347.26 921.09,346.70 921.79,346.14 922.48,345.57 923.17,345.01 923.86,344.45 924.56,343.89 925.25,343.33 925.94,342.77 926.64,342.20 927.33,341.64 928.02,341.08 928.72,340.51 929.41,339.95 930.10,339.39 930.79,338.82 931.49,338.26 932.18,337.69 932.87,337.13 933.57,336.56 934.26,336.00 934.95,335.43 935.64,334.87 936.34,334.30 937.03,333.73 937.72,333.17 938.42,332.60 939.11,332.03 939.80,331.47 940.50,330.90 941.19,330.33 941.88,329.76 942.57,329.20 943.27,328.63 943.96,328.06 944.65,327.49 945.35,326.92 946.04,326.35 946.73,325.78 947.42,325.21 948.12,324.64 948.81,324.07 949.50,323.50 950.20,322.93 950.89,322.36 951.58,321.79 952.28,321.22 952.97,320.65 953.66,320.07 954.35,319.50 955.05,318.93 955.74,318.36 956.43,317.78 957.13,317.21 957.82,316.64 958.51,316.06 959.20,315.49 959.90,314.91 960.59,314.34 961.28,313.77 961.98,313.19 962.67,312.62 963.36,312.04 964.06,311.46 964.75,310.89 965.44,310.31 966.13,309.74 966.83,309.16 967.52,308.58 968.21,308.01 968.91,307.43 969.60,306.85 970.29,306.27 970.98,305.70 971.68,305.12 972.37,304.54 973.06,303.96 973.76,303.38 974.45,302.80 975.14,302.22 975.84,301.64 976.53,301.07 977.22,300.49 977.91,299.90 978.61,299.32 979.30,298.74" fill="none" stroke="#ff0000" stroke-width="3.1"/></g>
<path d="M109.50,713.6V699.6M109.5,713.60H123.5M181.98,713.6V706.0M109.5,655.30H117.1M254.47,713.6V699.6M109.5,597.00H123.5M326.95,713.6V706.0M109.5,538.70H117.1M399.43,713.6V699.6M109.5,480.40H123.5M471.92,713.6V706.0M109.5,422.10H117.1M544.40,713.6V699.6M109.5,363.80H123.5M616.88,713.6V706.0M109.5,305.50H117.1M689.37,713.6V699.6M109.5,247.20H123.5M761.85,713.6V706.0M109.5,188.90H117.1M834.33,713.6V699.6M109.5,130.60H123.5M906.82,713.6V706.0M109.5,72.30H117.1M979.30,713.6V699.6M109.5,14.00H123.5" stroke="#000" stroke-width="3" fill="none"/>
<rect x="109.5" y="14.0" width="869.80" height="699.60" fill="none" stroke="#000" stroke-width="3"/>
<text transform="translate(109.00,752) scale(0.965,1)" font-family="Liberation Sans" font-size="30.5" text-anchor="middle">0.0</text>
<text transform="translate(93.1,722.20) scale(0.965,1)" font-family="Liberation Sans" font-size="30.5" text-anchor="end">0.0</text>
<text transform="translate(253.97,752) scale(0.965,1)" font-family="Liberation Sans" font-size="30.5" text-anchor="middle">0.1</text>
<text transform="translate(93.1,605.60) scale(0.965,1)" font-family="Liberation Sans" font-size="30.5" text-anchor="end">0.1</text>
<text transform="translate(398.93,752) scale(0.965,1)" font-family="Liberation Sans" font-size="30.5" text-anchor="middle">0.2</text>
<text transform="translate(93.1,489.00) scale(0.965,1)" font-family="Liberation Sans" font-size="30.5" text-anchor="end">0.2</text>
<text transform="translate(543.90,752) scale(0.965,1)" font-family="Liberation Sans" font-size="30.5" text-anchor="middle">0.3</text>
<text transform="translate(93.1,372.40) scale(0.965,1)" font-family="Liberation Sans" font-size="30.5" text-anchor="end">0.3</text>
<text transform="translate(688.87,752) scale(0.965,1)" font-family="Liberation Sans" font-size="30.5" text-anchor="middle">0.4</text>
<text transform="translate(93.1,255.80) scale(0.965,1)" font-family="Liberation Sans" font-size="30.5" text-anchor="end">0.4</text>
<text transform="translate(833.83,752) scale(0.965,1)" font-family="Liberation Sans" font-size="30.5" text-anchor="middle">0.5</text>
<text transform="translate(93.1,139.20) scale(0.965,1)" font-family="Liberation Sans" font-size="30.5" text-anchor="end">0.5</text>
<text transform="translate(978.80,752) scale(0.965,1)" font-family="Liberation Sans" font-size="30.5" text-anchor="middle">0.6</text>
<text transform="translate(93.1,22.60) scale(0.965,1)" font-family="Liberation Sans" font-size="30.5" text-anchor="end">0.6</text>
<text x="423.8" y="806" font-family="Liberation Serif" font-size="35.6">ionomer fraction</text>
<g transform="translate(28,396) rotate(-90)"><text transform="translate(-1.2,-0.4) scale(1.2,1)" font-family="Liberation Sans" font-size="32.5" stroke="#fff" stroke-width="0.5">σ</text><text transform="translate(39.7,-0.4) scale(1.2,1)" font-family="Liberation Sans" font-size="32.5" stroke="#fff" stroke-width="0.5">σ</text><text x="17.7" y="11.5" font-family="Liberation Serif" font-style="italic" font-size="22.5">e</text><text x="58.4" y="11.5" font-family="Liberation Serif" font-style="italic" font-size="22.4">b</text><text x="28" y="-2" font-family="Liberation Serif" font-size="37">/</text></g>
<text x="131.30" y="44.4" font-family="Liberation Serif" font-size="24" fill="#000" stroke="#000" stroke-width="0.3" textLength="184.51" lengthAdjust="spacing">Experimental data</text>
<text x="149.64" y="72" font-family="Liberation Serif" font-size="21" fill="#000" stroke="#000" stroke-width="0.3" textLength="38.94" lengthAdjust="spacing">Ref.</text>
<text x="193.38" y="72" font-family="Liberation Serif" font-size="21" fill="#0000ff" stroke="#0000ff" stroke-width="0.3" textLength="21.98" lengthAdjust="spacing">45</text>
<text x="260.76" y="72" font-family="Liberation Serif" font-size="21" fill="#000" stroke="#000" stroke-width="0.3" textLength="112.46" lengthAdjust="spacing">Original data</text>
<text x="431.30" y="72" font-family="Liberation Serif" font-size="21" fill="#000" stroke="#000" stroke-width="0.3" textLength="93.22" lengthAdjust="spacing">Calibration</text>
<text x="537.30" y="72" font-family="Liberation Serif" font-size="21" fill="#000" stroke="#000" stroke-width="0.3" textLength="76.77" lengthAdjust="spacing">(RH 1.0)</text>
<text x="152.68" y="98.5" font-family="Liberation Serif" font-size="21" fill="#000" stroke="#000" stroke-width="0.3" textLength="38.80" lengthAdjust="spacing">Ref.</text>
<text x="197.00" y="98.5" font-family="Liberation Serif" font-size="21" fill="#0000ff" stroke="#0000ff" stroke-width="0.3" textLength="21.70" lengthAdjust="spacing">46</text>
<text x="264.30" y="98.5" font-family="Liberation Serif" font-size="21" fill="#000" stroke="#000" stroke-width="0.3" textLength="112.46" lengthAdjust="spacing">Original data</text>
<text x="433.30" y="98.5" font-family="Liberation Serif" font-size="21" fill="#000" stroke="#000" stroke-width="0.3" textLength="95.88" lengthAdjust="spacing">Calibration</text>
<text x="541.30" y="98.5" font-family="Liberation Serif" font-size="21" fill="#000" stroke="#000" stroke-width="0.3" textLength="78.17" lengthAdjust="spacing">(RH 0.8)</text>
<text x="152.68" y="125.5" font-family="Liberation Serif" font-size="21" fill="#000" stroke="#000" stroke-width="0.3" textLength="37.40" lengthAdjust="spacing">Ref.</text>
<text x="196.00" y="125.5" font-family="Liberation Serif" font-size="21" fill="#0000ff" stroke="#0000ff" stroke-width="0.3" textLength="21.42" lengthAdjust="spacing">47</text>
<text x="263.30" y="125.5" font-family="Liberation Serif" font-size="21" fill="#000" stroke="#000" stroke-width="0.3" textLength="112.32" lengthAdjust="spacing">Original data</text>
<text x="432.30" y="125.5" font-family="Liberation Serif" font-size="21" fill="#000" stroke="#000" stroke-width="0.3" textLength="95.88" lengthAdjust="spacing">Calibration</text>
<text x="539.76" y="125.5" font-family="Liberation Serif" font-size="21" fill="#000" stroke="#000" stroke-width="0.3" textLength="75.51" lengthAdjust="spacing">(RH 0.5)</text>
<text x="131.60" y="155.4" font-family="Liberation Serif" font-size="24" fill="#000" stroke="#000" stroke-width="0.3" textLength="158.31" lengthAdjust="spacing">Simulation data</text>
<text x="152.30" y="183.2" font-family="Liberation Serif" font-size="21" fill="#000" stroke="#000" stroke-width="0.3" textLength="37.54" lengthAdjust="spacing">Ref.</text>
<text x="195.30" y="183.2" font-family="Liberation Serif" font-size="21" fill="#0000ff" stroke="#0000ff" stroke-width="0.3" textLength="21.56" lengthAdjust="spacing">33</text>
<text x="153.30" y="210.5" font-family="Liberation Serif" font-size="21" fill="#000" stroke="#000" stroke-width="0.3" textLength="37.82" lengthAdjust="spacing">Ref.</text>
<text x="196.00" y="210.5" font-family="Liberation Serif" font-size="21" fill="#0000ff" stroke="#0000ff" stroke-width="0.3" textLength="21.00" lengthAdjust="spacing">41</text>
<text x="273.30" y="210.5" font-family="Liberation Serif" font-size="21" fill="#000" stroke="#000" stroke-width="0.3" textLength="74.66" lengthAdjust="spacing"><tspan font-style="italic">r</tspan> =12nm</text>
<text x="420.18" y="210.5" font-family="Liberation Serif" font-size="21" fill="#000" stroke="#000" stroke-width="0.3" textLength="73.54" lengthAdjust="spacing"><tspan font-style="italic">r</tspan> =20nm</text>
<text x="155.00" y="237" font-family="Liberation Serif" font-size="21" fill="#000" stroke="#000" stroke-width="0.3" textLength="186.16" lengthAdjust="spacing">This work&#160;&#160;(<tspan font-style="italic">r</tspan> =15nm)</text>
<text x="391.80" y="237" font-family="Liberation Serif" font-size="21" fill="#000" stroke="#000" stroke-width="0.3" textLength="82.54" lengthAdjust="spacing">C%=40%</text>
<text x="519.30" y="237" font-family="Liberation Serif" font-size="21" fill="#000" stroke="#000" stroke-width="0.3" textLength="83.66" lengthAdjust="spacing">C%=30%</text>
<text x="188.76" y="268.3" font-family="Liberation Serif" font-size="24" fill="#000" stroke="#000" stroke-width="0.3" textLength="215.55" lengthAdjust="spacing">Bruggeman Equation</text>
<text x="189.30" y="298.6" font-family="Liberation Serif" font-size="24" fill="#000" stroke="#000" stroke-width="0.3" textLength="119.60" lengthAdjust="spacing">Fitting Line</text>
<polygon points="239.00,58.60 246.23,63.85 243.47,72.35 234.53,72.35 231.77,63.85" fill="none" stroke="#000" stroke-width="1.15" stroke-linejoin="miter"/>
<polygon points="402.30,58.60 409.53,63.85 406.77,72.35 397.83,72.35 395.07,63.85" fill="#000" stroke="#000" stroke-width="0.8" stroke-linejoin="miter"/>
<polygon points="242.50,85.90 244.50,90.55 249.54,91.01 245.74,94.35 246.85,99.29 242.50,96.70 238.15,99.29 239.26,94.35 235.46,91.01 240.50,90.55" fill="none" stroke="#000" stroke-width="1.05"/>
<polygon points="405.50,85.70 407.38,90.72 412.73,90.95 408.54,94.29 409.97,99.45 405.50,96.49 401.03,99.45 402.46,94.29 398.27,90.95 403.62,90.72" fill="#000" stroke="#000" stroke-width="0.6"/>
<polygon points="241,111.8 249.2,120 241,128.2 232.8,120" fill="none" stroke="#ff0000" stroke-width="0.95"/>
<polygon points="404.5,111.3 412.7,119.5 404.5,127.7 396.3,119.5" fill="#000" stroke="#000" stroke-width="0.3"/>
<rect x="245.79999999999998" y="172.0" width="11.6" height="11.6" fill="#808080" stroke="#808080" stroke-width="0.3"/>
<polygon points="251.7,196.8 259.7,210.2 243.7,210.2" fill="#808080" stroke="#808080" stroke-width="0.5"/>
<polygon points="393.4,196.1 401.15,209.29999999999998 385.65,209.29999999999998" fill="#fff" stroke="#808080" stroke-width="1.05"/>
<circle cx="363.4" cy="231" r="7.6" fill="#fff" stroke="#ff0000" stroke-width="1.3"/>
<rect x="490.6" y="224.8" width="14.0" height="14.0" fill="#fff" stroke="#ff0000" stroke-width="1.3"/>
<path d="M138,261.2H181.6" stroke="#000" stroke-width="2.4" stroke-dasharray="9 9"/>
<path d="M138,292H185.6" stroke="#ff0000" stroke-width="3"/>
</svg></body></html>
